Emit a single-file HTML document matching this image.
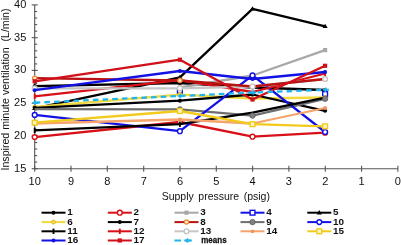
<!DOCTYPE html>
<html><head><meta charset="utf-8"><style>
html,body{margin:0;padding:0;background:#fff;}
svg{display:block;}
</style></head><body>
<svg width="401" height="245" viewBox="0 0 401 245">
<rect width="401" height="245" fill="#fff"/>
<g stroke="#555555" stroke-width="1.1" fill="none">
<path d="M34.7,4.9V168.7H397.9"/>
<path d="M31.7,168.7H37.7"/>
<path d="M31.7,135.9H37.7"/>
<path d="M31.7,103.2H37.7"/>
<path d="M31.7,70.4H37.7"/>
<path d="M31.7,37.7H37.7"/>
<path d="M31.7,4.9H37.7"/>
<path d="M34.7,162.1H37.2"/>
<path d="M34.7,155.6H37.2"/>
<path d="M34.7,149.0H37.2"/>
<path d="M34.7,142.5H37.2"/>
<path d="M34.7,129.4H37.2"/>
<path d="M34.7,122.8H37.2"/>
<path d="M34.7,116.3H37.2"/>
<path d="M34.7,109.8H37.2"/>
<path d="M34.7,96.6H37.2"/>
<path d="M34.7,90.1H37.2"/>
<path d="M34.7,83.5H37.2"/>
<path d="M34.7,77.0H37.2"/>
<path d="M34.7,63.9H37.2"/>
<path d="M34.7,57.3H37.2"/>
<path d="M34.7,50.8H37.2"/>
<path d="M34.7,44.2H37.2"/>
<path d="M34.7,31.2H37.2"/>
<path d="M34.7,24.6H37.2"/>
<path d="M34.7,18.0H37.2"/>
<path d="M34.7,11.5H37.2"/>
<path d="M397.9,165.7V171.7"/>
<path d="M361.6,165.7V171.7"/>
<path d="M325.3,165.7V171.7"/>
<path d="M288.9,165.7V171.7"/>
<path d="M252.6,165.7V171.7"/>
<path d="M216.3,165.7V171.7"/>
<path d="M180.0,165.7V171.7"/>
<path d="M143.7,165.7V171.7"/>
<path d="M107.3,165.7V171.7"/>
<path d="M71.0,165.7V171.7"/>
<path d="M34.7,165.7V171.7"/>
</g>
<g font-family="Liberation Sans, Arial, sans-serif" font-size="11" fill="#111">
<text x="26.3" y="171.6" text-anchor="end">15</text>
<text x="26.3" y="138.8" text-anchor="end">20</text>
<text x="26.3" y="106.1" text-anchor="end">25</text>
<text x="26.3" y="73.3" text-anchor="end">30</text>
<text x="26.3" y="40.6" text-anchor="end">35</text>
<text x="26.3" y="7.8" text-anchor="end">40</text>
<text x="397.9" y="185" text-anchor="middle">0</text>
<text x="361.6" y="185" text-anchor="middle">1</text>
<text x="325.3" y="185" text-anchor="middle">2</text>
<text x="288.9" y="185" text-anchor="middle">3</text>
<text x="252.6" y="185" text-anchor="middle">4</text>
<text x="216.3" y="185" text-anchor="middle">5</text>
<text x="180.0" y="185" text-anchor="middle">6</text>
<text x="143.7" y="185" text-anchor="middle">7</text>
<text x="107.3" y="185" text-anchor="middle">8</text>
<text x="71.0" y="185" text-anchor="middle">9</text>
<text x="34.7" y="185" text-anchor="middle">10</text>
<text x="215.8" y="199.8" text-anchor="middle" font-size="10.5" word-spacing="1.6">Supply pressure (psig)</text>
<text transform="translate(8.8,89.5) rotate(-90)" text-anchor="middle" font-size="10.6">Inspired minute ventilation&#160;&#160;(L/min)</text>
</g>
<path d="M34.7,86.1 L179.9,83.0 L252.5,87.5 L325.1,90.0" fill="none" stroke="#000000" stroke-width="2.3" stroke-linejoin="round"/>
<circle cx="34.7" cy="86.1" r="2.0" fill="#000000"/>
<circle cx="179.9" cy="83.0" r="2.0" fill="#000000"/>
<circle cx="252.5" cy="87.5" r="2.0" fill="#000000"/>
<circle cx="325.1" cy="90.0" r="2.0" fill="#000000"/>
<path d="M34.7,137.1 L179.9,122.0 L252.5,136.7 L325.1,132.7" fill="none" stroke="#d81018" stroke-width="2.3" stroke-linejoin="round"/>
<circle cx="34.7" cy="137.1" r="2.4" fill="#fff" stroke="#d81018" stroke-width="1.4"/>
<circle cx="179.9" cy="122.0" r="2.4" fill="#fff" stroke="#d81018" stroke-width="1.4"/>
<circle cx="252.5" cy="136.7" r="2.4" fill="#fff" stroke="#d81018" stroke-width="1.4"/>
<circle cx="325.1" cy="132.7" r="2.4" fill="#fff" stroke="#d81018" stroke-width="1.4"/>
<path d="M179.9,87.5 L252.5,75.5 L325.1,50.1" fill="none" stroke="#a8a8a8" stroke-width="2.3" stroke-linejoin="round"/>
<rect x="177.8" y="85.4" width="4.2" height="4.2" fill="#a8a8a8"/>
<rect x="250.4" y="73.4" width="4.2" height="4.2" fill="#a8a8a8"/>
<rect x="323.0" y="48.0" width="4.2" height="4.2" fill="#a8a8a8"/>
<rect x="177.5" y="88.6" width="4.8" height="4.8" fill="#fff" stroke="#1212e6" stroke-width="1.4"/>
<rect x="322.7" y="91.6" width="4.8" height="4.8" fill="#fff" stroke="#1212e6" stroke-width="1.4"/>
<path d="M34.7,108.3 L179.9,77.3 L252.5,8.8 L325.1,26.3" fill="none" stroke="#000000" stroke-width="2.3" stroke-linejoin="round"/>
<path d="M32.1,110.1L37.3,110.1L34.7,105.7Z" fill="#000000"/>
<path d="M177.3,79.1L182.5,79.1L179.9,74.7Z" fill="#000000"/>
<path d="M249.9,10.6L255.1,10.6L252.5,6.2Z" fill="#000000"/>
<path d="M322.5,28.1L327.7,28.1L325.1,23.7Z" fill="#000000"/>
<path d="M34.7,107.0 L179.9,94.6 L252.5,98.5 L325.1,97.5" fill="none" stroke="#f3da3c" stroke-width="2.3" stroke-linejoin="round"/>
<circle cx="34.7" cy="107.0" r="2.0" fill="#f6dc50" stroke="#dcb010" stroke-width="0.8"/>
<circle cx="179.9" cy="94.6" r="2.0" fill="#f6dc50" stroke="#dcb010" stroke-width="0.8"/>
<circle cx="252.5" cy="98.5" r="2.0" fill="#f6dc50" stroke="#dcb010" stroke-width="0.8"/>
<circle cx="325.1" cy="97.5" r="2.0" fill="#f6dc50" stroke="#dcb010" stroke-width="0.8"/>
<path d="M34.7,107.8 L179.9,100.7 L252.5,94.5 L325.1,110.8" fill="none" stroke="#000000" stroke-width="2.3" stroke-linejoin="round"/>
<circle cx="34.7" cy="107.8" r="2.0" fill="#000000"/>
<circle cx="179.9" cy="100.7" r="2.0" fill="#000000"/>
<circle cx="252.5" cy="94.5" r="2.0" fill="#000000"/>
<circle cx="325.1" cy="110.8" r="2.0" fill="#000000"/>
<path d="M34.7,109.2 L179.9,109.4 L252.5,115.6 L325.1,98.8" fill="none" stroke="#6e6e6e" stroke-width="2.3" stroke-linejoin="round"/>
<path d="M34.7,114.9 L179.9,131.2 L252.5,75.4 L325.1,132.0" fill="none" stroke="#1212e6" stroke-width="2.3" stroke-linejoin="round"/>
<circle cx="34.7" cy="114.9" r="2.4" fill="#fff" stroke="#1212e6" stroke-width="1.4"/>
<circle cx="179.9" cy="131.2" r="2.4" fill="#fff" stroke="#1212e6" stroke-width="1.4"/>
<circle cx="252.5" cy="75.4" r="2.4" fill="#fff" stroke="#1212e6" stroke-width="1.4"/>
<circle cx="325.1" cy="132.0" r="2.4" fill="#fff" stroke="#1212e6" stroke-width="1.4"/>
<path d="M34.7,130.4 L179.9,124.2 L252.5,112.6 L325.1,97.6" fill="none" stroke="#000000" stroke-width="2.3" stroke-linejoin="round"/>
<path d="M34.7,127.7V133.1" stroke="#000000" stroke-width="1.9"/>
<path d="M179.9,121.5V126.9" stroke="#000000" stroke-width="1.9"/>
<circle cx="179.9" cy="109.4" r="2.7" fill="#808080" stroke="#5a5a5a" stroke-width="0.8"/>
<circle cx="252.5" cy="115.6" r="2.7" fill="#808080" stroke="#5a5a5a" stroke-width="0.8"/>
<circle cx="325.1" cy="98.8" r="2.7" fill="#808080" stroke="#5a5a5a" stroke-width="0.8"/>
<path d="M34.7,96.3 L179.9,80.2 L252.5,92.0 L325.1,73.5" fill="none" stroke="#d81018" stroke-width="2.3" stroke-linejoin="round"/>
<path d="M34.7,93.6V99.0" stroke="#d81018" stroke-width="1.9"/>
<path d="M179.9,77.5V82.9" stroke="#d81018" stroke-width="1.9"/>
<path d="M325.1,70.8V76.2" stroke="#d81018" stroke-width="1.9"/>
<path d="M34.7,88.3 L179.9,88.3 L252.5,86.5 L325.1,79.0" fill="none" stroke="#c6c6c6" stroke-width="2.3" stroke-linejoin="round"/>
<path d="M34.7,78.2 L179.9,80.5 L252.5,86.5 L325.1,79.0" fill="none" stroke="#b81212" stroke-width="2.3" stroke-linejoin="round"/>
<circle cx="34.7" cy="78.2" r="2.1" fill="#fff0dc" stroke="#ee8a30" stroke-width="1.3"/>
<circle cx="179.9" cy="80.5" r="2.1" fill="#fff0dc" stroke="#ee8a30" stroke-width="1.3"/>
<circle cx="252.5" cy="86.5" r="2.1" fill="#fff0dc" stroke="#ee8a30" stroke-width="1.3"/>
<circle cx="325.1" cy="79.0" r="2.1" fill="#fff0dc" stroke="#ee8a30" stroke-width="1.3"/>
<circle cx="34.7" cy="88.3" r="2.4" fill="#fff" stroke="#c6c6c6" stroke-width="1.4"/>
<circle cx="179.9" cy="88.3" r="2.4" fill="#fff" stroke="#c6c6c6" stroke-width="1.4"/>
<circle cx="252.5" cy="86.5" r="2.4" fill="#fff" stroke="#c6c6c6" stroke-width="1.4"/>
<circle cx="325.1" cy="79.0" r="2.4" fill="#fff" stroke="#c6c6c6" stroke-width="1.4"/>
<path d="M34.7,123.5 L179.9,119.5 L252.5,123.5 L325.1,108.0" fill="none" stroke="#f4a46c" stroke-width="2.3" stroke-linejoin="round"/>
<circle cx="34.7" cy="123.5" r="1.9" fill="#ec975e"/>
<circle cx="179.9" cy="119.5" r="1.9" fill="#ec975e"/>
<circle cx="252.5" cy="123.5" r="1.9" fill="#ec975e"/>
<circle cx="325.1" cy="108.0" r="1.9" fill="#ec975e"/>
<path d="M34.7,122.7 L179.9,111.0 L252.5,124.2 L325.1,126.4" fill="none" stroke="#f2ca1c" stroke-width="2.3" stroke-linejoin="round"/>
<rect x="32.3" y="120.3" width="4.8" height="4.8" fill="#fff6c8" stroke="#f2ca1c" stroke-width="1.4"/>
<rect x="177.5" y="108.6" width="4.8" height="4.8" fill="#fff6c8" stroke="#f2ca1c" stroke-width="1.4"/>
<rect x="250.1" y="121.8" width="4.8" height="4.8" fill="#fff6c8" stroke="#f2ca1c" stroke-width="1.4"/>
<rect x="322.7" y="124.0" width="4.8" height="4.8" fill="#fff6c8" stroke="#f2ca1c" stroke-width="1.4"/>
<path d="M34.7,90.2 L179.9,71.0 L252.5,79.0 L325.1,72.0" fill="none" stroke="#1212e6" stroke-width="2.3" stroke-linejoin="round"/>
<circle cx="34.7" cy="90.2" r="2.0" fill="#1212e6"/>
<circle cx="179.9" cy="71.0" r="2.0" fill="#1212e6"/>
<circle cx="252.5" cy="79.0" r="2.0" fill="#1212e6"/>
<circle cx="325.1" cy="72.0" r="2.0" fill="#1212e6"/>
<path d="M34.7,81.3 L179.9,59.7 L252.5,99.5 L325.1,65.8" fill="none" stroke="#d0101a" stroke-width="2.3" stroke-linejoin="round"/>
<rect x="32.6" y="79.2" width="4.2" height="4.2" fill="#d0101a"/>
<rect x="177.8" y="57.6" width="4.2" height="4.2" fill="#d0101a"/>
<rect x="250.4" y="97.4" width="4.2" height="4.2" fill="#d0101a"/>
<rect x="323.0" y="63.7" width="4.2" height="4.2" fill="#d0101a"/>
<path d="M34.7,102.7 L179.9,96.0 L252.5,92.5 L325.1,89.8" fill="none" stroke="#22b4ec" stroke-width="2.3" stroke-dasharray="5.6,4.1"/>
<path d="M31.9,102.7L35.9,99.9L35.9,105.5Z M34.7,101.7H38.5V103.7H34.7Z" fill="#22b4ec"/>
<path d="M177.1,96.0L181.1,93.2L181.1,98.8Z M179.9,95.0H183.7V97.0H179.9Z" fill="#22b4ec"/>
<path d="M249.7,92.5L253.7,89.7L253.7,95.3Z M252.5,91.5H256.3V93.5H252.5Z" fill="#22b4ec"/>
<path d="M322.3,89.8L326.3,87.0L326.3,92.6Z M325.1,88.8H328.9V90.8H325.1Z" fill="#22b4ec"/>
<g font-family="Liberation Sans, Arial, sans-serif" font-size="9.9" font-weight="bold" fill="#111">
<path d="M41.5,212.7H65.5" stroke="#000000" stroke-width="2"/>
<circle cx="53.5" cy="212.7" r="2.0" fill="#000000"/>
<text x="67.3" y="215.4">1</text>
<path d="M107.8,212.7H131.8" stroke="#d81018" stroke-width="2"/>
<circle cx="119.8" cy="212.7" r="2.4" fill="#fff" stroke="#d81018" stroke-width="1.4"/>
<text x="133.6" y="215.4">2</text>
<path d="M174.5,212.7H198.5" stroke="#a8a8a8" stroke-width="2"/>
<rect x="184.4" y="210.6" width="4.2" height="4.2" fill="#a8a8a8"/>
<text x="200.3" y="215.4">3</text>
<path d="M240.5,212.7H264.5" stroke="#1212e6" stroke-width="2"/>
<rect x="250.1" y="210.3" width="4.8" height="4.8" fill="#fff" stroke="#1212e6" stroke-width="1.4"/>
<text x="266.3" y="215.4">4</text>
<path d="M307.3,212.7H331.3" stroke="#000000" stroke-width="2"/>
<path d="M316.7,214.5L321.9,214.5L319.3,210.1Z" fill="#000000"/>
<text x="333.1" y="215.4">5</text>
<path d="M41.5,222.1H65.5" stroke="#f3da3c" stroke-width="2"/>
<circle cx="53.5" cy="222.1" r="2.0" fill="#f6dc50" stroke="#dcb010" stroke-width="0.8"/>
<text x="67.3" y="224.8">6</text>
<path d="M107.8,222.1H131.8" stroke="#000000" stroke-width="2"/>
<circle cx="119.8" cy="222.1" r="2.0" fill="#000000"/>
<text x="133.6" y="224.8">7</text>
<path d="M174.5,222.1H198.5" stroke="#b81212" stroke-width="2"/>
<circle cx="186.5" cy="222.1" r="2.1" fill="#fff0dc" stroke="#ee8a30" stroke-width="1.3"/>
<text x="200.3" y="224.8">8</text>
<path d="M240.5,222.1H264.5" stroke="#6e6e6e" stroke-width="2"/>
<circle cx="252.5" cy="222.1" r="2.7" fill="#808080" stroke="#5a5a5a" stroke-width="0.8"/>
<text x="266.3" y="224.8">9</text>
<path d="M307.3,222.1H331.3" stroke="#1212e6" stroke-width="2"/>
<circle cx="319.3" cy="222.1" r="2.4" fill="#fff" stroke="#1212e6" stroke-width="1.4"/>
<text x="333.1" y="224.8">10</text>
<path d="M41.5,231.3H65.5" stroke="#000000" stroke-width="2"/>
<path d="M53.5,228.6V234.0" stroke="#000000" stroke-width="1.9"/>
<text x="67.3" y="234.0">11</text>
<path d="M107.8,231.3H131.8" stroke="#d81018" stroke-width="2"/>
<path d="M119.8,228.6V234.0" stroke="#d81018" stroke-width="1.9"/>
<text x="133.6" y="234.0">12</text>
<path d="M174.5,231.3H198.5" stroke="#c6c6c6" stroke-width="2"/>
<circle cx="186.5" cy="231.3" r="2.4" fill="#fff" stroke="#c6c6c6" stroke-width="1.4"/>
<text x="200.3" y="234.0">13</text>
<path d="M240.5,231.3H264.5" stroke="#f4a46c" stroke-width="2"/>
<circle cx="252.5" cy="231.3" r="1.9" fill="#ec975e"/>
<text x="266.3" y="234.0">14</text>
<path d="M307.3,231.3H331.3" stroke="#f2ca1c" stroke-width="2"/>
<rect x="316.9" y="228.9" width="4.8" height="4.8" fill="#fff6c8" stroke="#f2ca1c" stroke-width="1.4"/>
<text x="333.1" y="234.0">15</text>
<path d="M41.5,240.5H65.5" stroke="#1212e6" stroke-width="2"/>
<circle cx="53.5" cy="240.5" r="2.0" fill="#1212e6"/>
<text x="67.3" y="243.2">16</text>
<path d="M107.8,240.5H131.8" stroke="#d0101a" stroke-width="2"/>
<rect x="117.7" y="238.4" width="4.2" height="4.2" fill="#d0101a"/>
<text x="133.6" y="243.2">17</text>
<path d="M174.4,240.5H181M184.4,240.5H191.8" stroke="#22b4ec" stroke-width="2"/>
<path d="M184.2,240.5L188.2,237.7L188.2,243.3Z M187.0,239.5H190.8V241.5H187.0Z" fill="#22b4ec"/>
<text x="201.2" y="243.4" textLength="25.4" lengthAdjust="spacingAndGlyphs" stroke="#111" stroke-width="0.3">means</text>
</g>
</svg>
</body></html>
